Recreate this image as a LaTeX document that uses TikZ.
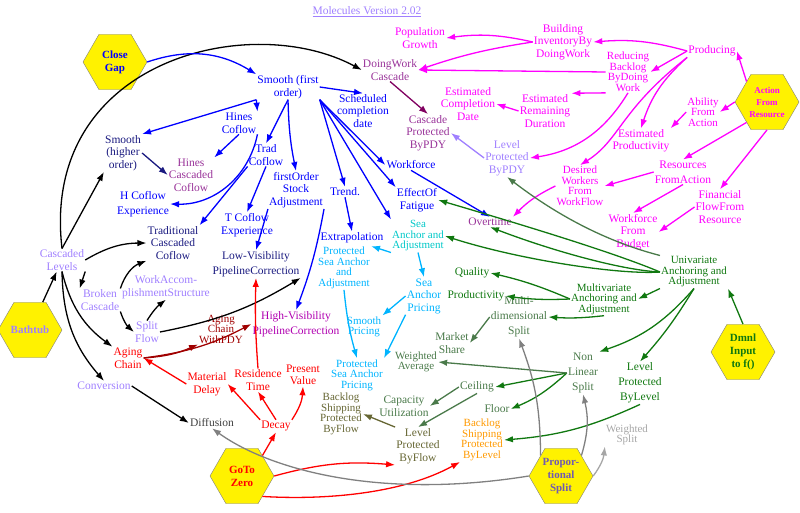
\documentclass[tikz,border=0pt]{standalone}
\usepackage{fontspec}
\setmainfont{Liberation Serif}
\usetikzlibrary{shapes.geometric,arrows.meta}
\definecolor{cblue}{HTML}{0000FF}
\definecolor{cnavy}{HTML}{1A1A80}
\definecolor{cpurp}{HTML}{993399}
\definecolor{cdpurp}{HTML}{800060}
\definecolor{cmag}{HTML}{FF00FF}
\definecolor{clav}{HTML}{A080FF}
\definecolor{cteal}{HTML}{00C8C8}
\definecolor{csky}{HTML}{00B4FF}
\definecolor{cgreen}{HTML}{107810}
\definecolor{cgg}{HTML}{4A7A4A}
\definecolor{cred}{HTML}{FF0000}
\definecolor{cdred}{HTML}{A00000}
\definecolor{colive}{HTML}{666633}
\definecolor{corange}{HTML}{FF9900}
\definecolor{chv}{HTML}{B000B0}
\begin{document}
\begin{tikzpicture}[x=1pt,y=-1pt,
  t/.style={align=center,inner sep=1pt,font=\fontsize{11.5}{12.5}\selectfont},
  tt/.style={t,font=\fontsize{11}{10.5}\selectfont},
  tw/.style={t,font=\fontsize{11.5}{15}\selectfont},
  hex/.style={regular polygon,regular polygon sides=6,minimum size=64pt,fill=yellow,draw=gray,align=center,inner sep=0pt,font=\fontsize{11}{13}\selectfont\bfseries},
  a/.style={-{Latex[length=9pt,width=6.5pt]},line width=1.3pt}]
\useasboundingbox (0,0) rectangle (800,513);
\node[t,clav] (title) at (367,12) {\underline{Molecules Version 2.02}};
% hexagons
\node[hex,text=blue] (cg) at (115,62) {Close\\Gap};
\node[hex,text=clav] (bt) at (30,330) {Bathtub};
\node[hex,text=red] (gz) at (242,476) {GoTo\\Zero};
\node[hex,text=clav!70!black] (ps) at (561,476) {Propor-\\tional\\Split};
\node[hex,text=cgreen] (dm) at (743,352) {Dmnl\\Input\\to f()};
\node[hex,text=cmag,font=\fontsize{9}{12}\selectfont\bfseries] (afr) at (767,102) {Action\\From\\Resource};
% blue group
\node[t,cblue] (s1) at (288,87) {Smooth (first\\order)};
\node[t,cblue] (sched) at (363,111) {Scheduled\\completion\\date};
\node[t,cblue] (hc) at (239,123) {Hines\\Coflow};
\node[t,cblue] (tc) at (266,155) {Trad\\Coflow};
\node[t,cblue] (fo) at (296,190) {firstOrder\\Stock\\Adjustment};
\node[t,cblue] (trend) at (345,192) {Trend.};
\node[t,cblue] (extr) at (352,238) {Extrapolation};
\node[t,cblue] (wf) at (411,165) {Workforce};
\node[t,cblue] (ef) at (417,200) {EffectOf\\Fatigue};
\node[t,cnavy] (sh) at (123,153) {Smooth\\(higher\\order)};
\node[t,cpurp] (hcc) at (191,175) {Hines\\Cascaded\\Coflow};
\node[tw,cblue] (hce) at (143,204) {H Coflow\\Experience};
\node[t,cblue] (tce) at (247,225) {T Coflow\\Experience};
\node[t,cnavy] (tcc) at (173,243) {Traditional\\Cascaded\\Coflow};
\node[tw,cnavy] (lv) at (256,264) {Low-Visibility\\PipelineCorrection};
% magenta group
\node[t,cpurp] (dw) at (390,70) {DoingWork\\Cascade};
\node[t,cmag] (pg) at (420,38) {Population\\Growth};
\node[t,cmag] (bi) at (563,42) {Building\\InventoryBy\\DoingWork};
\node[t,cmag] (prod) at (712,51) {Producing};
\node[tt,cmag] (rb) at (628,72) {Reducing\\Backlog\\ByDoing\\Work};
\node[t,cmag] (ecd) at (468,104) {Estimated\\Completion\\Date};
\node[t,cmag] (erd) at (545,111) {Estimated\\Remaining\\Duration};
\node[t,cpurp] (cp) at (428,133) {Cascade\\Protected\\ByPDY};
\node[t,clav] (lp) at (507,158) {Level\\Protected\\ByPDY};
\node[tt,cmag] (ab) at (703,112) {Ability\\From\\Action};
\node[t,cmag] (ep) at (641,141) {Estimated\\Productivity};
\node[tt,cmag] (dwf) at (580,186) {Desired\\Workers\\From\\WorkFlow};
\node[tw,cmag] (rfa) at (683,172) {Resources\\FromAction};
\node[t,cmag] (ff) at (720,207) {Financial\\FlowFrom\\Resource};
\node[t,cmag] (wb) at (633,232) {Workforce\\From\\Budget};
\node[t,cpurp] (ot) at (490,222) {Overtime};
% left group
\node[t,clav] (cl) at (62,260) {Cascaded\\Levels};
\node[t,clav] (wa) at (166,287) {WorkAccom-\\plishmentStructure};
\node[t,clav] (bc) at (100,300) {Broken\\Cascade};
\node[t,clav] (sf) at (147,332) {Split\\Flow};
\node[tt,cdred] (acp) at (221,329) {Aging\\Chain\\WithPDY};
\node[tw,chv] (hv) at (296,324) {High-Visibility\\PipelineCorrection};
\node[t,red] (ac) at (128,358) {Aging\\Chain};
\node[t,clav] (conv) at (104,386) {Conversion};
\node[t,red] (md) at (207,384) {Material\\Delay};
\node[t,red] (rt) at (258,380) {Residence\\Time};
\node[t,red] (pv) at (303,375) {Present\\Value};
\node[t,red] (dec) at (276,426) {Decay};
\node[t,black!75] (dif) at (212,423) {Diffusion};
% cyan group
\node[tt,cteal] (saa) at (418,236) {Sea\\Anchor and\\Adjustment};
\node[tt,csky] (psaa) at (344,268) {Protected\\Sea Anchor\\and\\Adjustment};
\node[t,csky] (sap) at (424,296) {Sea\\Anchor\\Pricing};
\node[tt,csky] (smp) at (364,327) {Smooth\\Pricing};
\node[tt,csky] (psap) at (357,375) {Protected\\Sea Anchor\\Pricing};
% green group
\node[t,cgreen] (qu) at (472,273) {Quality};
\node[t,cgreen] (pr) at (476,296) {Productivity};
\node[tw,cgg] (mds) at (519,317) {Multi-\\dimensional\\Split};
\node[t,cgg] (ms) at (452,343) {Market\\Share};
\node[tt,cgg] (wav) at (416,362) {Weighted\\Average};
\node[t,cgg] (ce) at (477,387) {Ceiling};
\node[t,cgg] (cu) at (404,406) {Capacity\\Utilization};
\node[t,cgg] (fl) at (497,409) {Floor};
\node[tt,colive] (bsf) at (341,414) {Backlog\\Shipping\\Protected\\ByFlow};
\node[t,colive] (lpf) at (418,446) {Level\\Protected\\ByFlow};
\node[tt,corange] (bsl) at (482,440) {Backlog\\Shipping\\Protected\\ByLevel};
\node[tt,cgreen] (uni) at (694,272) {Univariate\\Anchoring and\\Adjustment};
\node[tt,cgreen] (mv) at (604,299) {Multivariate\\Anchoring and\\Adjustment};
\node[tw,cgg] (nls) at (583,373) {Non\\Linear\\Split};
\node[tw,cgreen] (lpl) at (640,383) {Level\\Protected\\ByLevel};
\node[tt,black!35] (ws) at (627,435) {Weighted\\Split};
% black edges
\begin{scope}[black]
\draw[a] (bt) -- (cl);
\draw[a] (cl.north) -- (sh.south west);
\draw[a] (cl.north) .. controls (40,60) and (250,10) .. (dw.west);
\draw[a] (cl.east) to[bend left=15] (tcc.west);
\draw[a] (bc.north east) to[bend left=25] (tcc.south west);
\draw[a] (cl.south east) -- (bc.north west);
\draw[a] (cl.south) to[bend right=20] (ac.north west);
\draw[a] (cl.south) to[bend right=20] (conv.north);
\draw[a] (bc.south east) to[bend right=15] (sf.west);
\draw[a] (sf.north) to[bend left=10] (wa.south);
\draw[a] (sf.east) to[bend right=10] (lv.south east);
\draw[a] (conv.east) -- (dif.west);
\end{scope}
% blue edges
\begin{scope}[cblue]
\draw[a] (cg.east) to[bend left=25] (s1.north west);
\draw[a] (s1.east) -- (sched.north);
\draw[a] (s1.south west) -- (sh.north east);
\draw[a] (s1.south west) -- (hc.north east);
\draw[a] (s1.south) -- (tc.north);
\draw[a] (s1.south) to[bend right=5] (fo.north);
\draw[a] (s1.south east) -- (trend.north);
\draw[a] (s1.south east) -- (wf.west);
\draw[a] (s1.south east) -- (ef.north west);
\draw[a] (s1.south east) -- (saa.north west);
\draw[a] (hc.south) -- (hcc.north east);
\draw[a] (hc.south east) to[bend left=40] (hce.east);
\draw[a] (tc.south) -- (tce.north);
\draw[a] (tc.south west) -- (tcc.north east);
\draw[a] (fo.south west) -- (lv.north);
\draw[a] (fo.south east) to[bend left=5] (hv.north);
\draw[a] (trend.south) -- (extr.north);
\draw[a] (wf.south) -- (ot.north);
\draw[a,cnavy] (sh.east) -- (hcc.west);
\end{scope}
% magenta edges
\begin{scope}[cmag]
\draw[a] (bi.west) to[bend right=10] (pg.east);
\draw[a] (bi.west) to[bend right=5] (dw.east);
\draw[a] (prod.west) to[bend right=10] (bi.east);
\draw[a] (prod.west) -- (rb.east);
\draw[a] (prod.south west) .. controls (620,110) and (620,140) .. (dwf.north);
\draw[a] (prod.south west) to[bend right=15] (ep.north);
\draw[a] (rb.west) -- (dw.east);
\draw[a] (rb.south west) -- (erd.north east);
\draw[a] (rb.south) to[bend left=25] (lp.east);
\draw[a] (erd.west) -- (ecd.east);
\draw[a] (afr.north west) -- (prod.east);
\draw[a] (afr.west) -- (ab.east);
\draw[a] (afr.south west) -- (rfa.north);
\draw[a] (afr.south) -- (ff.north);
\draw[a] (ab.west) -- (ep.north east);
\draw[a] (rfa.west) -- (dwf.east);
\draw[a] (rfa.south) -- (wb.north);
\draw[a] (ff.west) -- (wb.east);
\draw[a] (dwf.west) to[bend right=10] (ot.north east);
\end{scope}
\draw[a,cdpurp] (dw.south) -- (cp.north);
\draw[a,clav] (lp.west) -- (cp.east);
% cyan
\begin{scope}[csky]
\draw[a] (saa.south west) -- (psaa.north east);
\draw[a] (saa.south) -- (sap.north);
\draw[a] (sap.west) -- (smp.north east);
\draw[a] (sap.south west) -- (psap.north east);
\draw[a] (psaa.south) to[bend right=5] (psap.north);
\end{scope}
% green
\begin{scope}[cgreen]
\draw[a] (dm.north) -- (uni.south east);
\draw[a] (uni.west) .. controls (620,255) and (540,230) .. (ef.east);
\draw[a] (uni.west) .. controls (620,270) and (550,250) .. (ot.south);
\draw[a] (uni.west) .. controls (620,275) and (520,260) .. (saa.east);
\draw[a] (uni.south west) -- (mv.east);
\draw[a] (uni.south) to[bend left=15] (nls.north east);
\draw[a] (uni.south) to[bend left=5] (lpl.north);
\draw[a,cgg] (uni.north west) .. controls (600,240) and (550,210) .. (lp.south);
\draw[a] (mv.west) to[bend right=5] (qu.east);
\draw[a] (mv.west) to[bend left=5] (pr.east);
\draw[a] (mv.south) to[bend left=5] (mds.east);
\draw[a] (nls.west) -- (ce.east);
\draw[a] (nls.west) to[bend left=10] (fl.east);
\draw[a] (lpl.south) to[bend left=10] (bsl.east);
\end{scope}
\begin{scope}[cgg]
\draw[a] (nls.west) -- (wav.east);
\draw[a] (mds.west) -- (ms.east);
\draw[a] (ce.west) -- (cu.east);
\draw[a] (ce.south) -- (lpf.north);
\end{scope}
\draw[a,colive] (lpf.north west) -- (bsf.east);
% red
\begin{scope}[red]
\draw[a] (gz.north east) -- (dec.south);
\draw[a] (gz.east) to[bend left=10] (lpf.south west);
\draw[a] (gz.south east) .. controls (320,500) and (400,495) .. (bsl.south west);
\draw[a] (dec.north west) -- (md.east);
\draw[a] (dec.north) -- (rt.south);
\draw[a] (dec.north east) to[bend right=15] (pv.south);
\draw[a] (rt.north) to[bend left=3] (lv.south);
\draw[a] (md.west) -- (ac.east);
\end{scope}
\draw[a,cdred] (ac.east) to[bend right=10] (acp.south west);
\draw[a,cdred] (ac.east) to[bend right=10] (hv.west);
% gray
\draw[a,gray] (ps.west) .. controls (380,500) and (270,470) .. (dif.south);
\draw[a,gray] (ps.north west) to[bend right=10] (mds.south);
\draw[a,gray] (ps.north east) to[bend right=15] (nls.south);
\draw[a,black!35] (ps.east) to[bend right=15] (ws.south west);
\end{tikzpicture}
\end{document}
